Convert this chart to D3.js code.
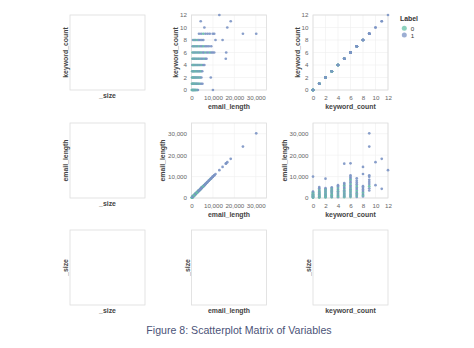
<!DOCTYPE html>
<html><head><meta charset="utf-8">
<script src="https://cdn.jsdelivr.net/npm/d3@7"></script>
<style>body{margin:0;background:#fff}svg{display:block}</style>
</head><body>
<svg id="chart" width="474" height="348"></svg>
<script>
// ---- data ----
const rowVars = ["keyword_count", "email_length", "_size"];
const colVars = ["_size", "email_length", "keyword_count"];
const labelValues = ["0", "1"];
const kwTicks = [0, 2, 4, 6, 8, 10, 12];
const lenTicks = [0, 10000, 20000, 30000];

const keyword_count = [
 0,0,0,0,0,0,0,0,0,0,0,0,0,0,0,0,
 1,1,1,1,1,1,1,1,1,1,1,1,1,1,1,
 2,2,2,2,2,2,2,2,2,2,2,2,2,2,
 3,3,3,3,3,3,3,3,3,3,3,3,3,
 4,4,4,4,4,4,4,4,4,4,4,4,4,
 5,5,5,5,5,5,5,5,5,5,5,5,5,5,5,
 6,6,6,6,6,6,6,6,6,6,6,6,6,6,6,6,6,6,6,
 7,7,7,7,7,7,7,7,7,7,7,7,7,
 8,8,8,8,8,8,8,8,8,8,
 9,9,9,9,9,9,9,9,9,9,
 10,10,
 11,11,
 12
];
const email_length = [
 120,300,450,600,800,950,1100,1300,1500,1700,1900,2100,2400,2700,3000,10000,
 200,400,650,900,1150,1400,1700,2000,2300,2600,3000,3400,3900,4500,5100,
 250,500,800,1100,1400,1750,2100,2500,2900,3300,3700,4100,4600,9000,
 300,600,900,1250,1600,2000,2400,2800,3200,3600,4000,4500,5000,
 350,700,1050,1450,1850,2300,2750,3200,3700,4200,4800,5400,6000,
 400,800,1200,1650,2100,2600,3100,3600,4150,4700,5300,5900,6500,7000,16000,
 450,900,1400,1900,2450,3000,3550,4100,4700,5300,5900,6600,7300,8000,8700,9300,9900,10600,16200,
 500,1000,1600,2200,2800,3500,4200,4900,5600,6400,7200,8100,9200,
 700,1300,1900,2600,3300,4000,4800,5500,11200,14500,
 3500,4500,5500,6500,7500,8500,9900,10600,24000,30200,
 6000,16700,
 4300,18300,
 13000
];
const label = [
 0,1,0,0,1,0,1,0,0,1,0,1,0,0,1,1,
 0,0,1,0,1,0,0,1,0,1,0,1,0,1,1,
 0,1,0,0,1,0,1,0,1,0,1,0,1,1,
 0,1,0,1,0,0,1,0,1,0,1,0,1,
 1,0,0,1,0,1,0,1,0,1,0,1,1,
 0,1,0,1,0,1,0,1,0,1,1,0,1,1,1,
 0,1,0,1,0,1,0,1,0,1,1,0,1,1,0,1,1,1,1,
 1,0,1,0,1,0,1,1,0,1,1,1,1,
 1,0,1,0,1,1,1,1,1,1,
 1,1,0,1,1,1,1,1,1,1,
 1,1,
 1,1,
 1
];
const records = keyword_count.map((k, i) => ({
  keyword_count: k, email_length: email_length[i], _size: null, Label: String(label[i])
}));

// ---- layout ----
const svg = d3.select("#chart");
const colX = [70, 191.5, 313], rowY = [15, 123, 230], S = 75;
const color = d3.scaleOrdinal().domain(labelValues).range(["#66c2a5", "#7b93c4"]);
const domains = { keyword_count: [0, 12], email_length: [0, 35000] };
const ticksFor = { keyword_count: kwTicks, email_length: lenTicks };
const fmt = d3.format(",");
const tickFont = "6.2px", titleFont = "6.9px";
const FONT = "'Liberation Sans', Arial, Helvetica, sans-serif";

rowVars.forEach((yv, r) => {
  colVars.forEach((xv, c) => {
    const g = svg.append("g").attr("transform", `translate(${colX[c]},${rowY[r]})`);
    const hasX = xv !== "_size", hasY = yv !== "_size";
    const active = hasX && hasY;
    let xs = null, ys = null;
    if (active) {
      xs = d3.scaleLinear().domain(domains[xv]).range([0, S]);
      ys = d3.scaleLinear().domain(domains[yv]).range([S, 0]);
      g.append("g").attr("class", "grid").selectAll("line.gx").data(ticksFor[xv]).join("line")
        .attr("x1", d => xs(d)).attr("x2", d => xs(d)).attr("y1", 0).attr("y2", S)
        .attr("stroke", "#eeeeee").attr("stroke-width", 0.6);
      g.append("g").attr("class", "grid").selectAll("line.gy").data(ticksFor[yv]).join("line")
        .attr("y1", d => ys(d)).attr("y2", d => ys(d)).attr("x1", 0).attr("x2", S)
        .attr("stroke", "#eeeeee").attr("stroke-width", 0.6);
    }
    g.append("rect").attr("x", 0).attr("y", 0).attr("width", S).attr("height", S)
      .attr("fill", "none").attr("stroke", "#dddddd").attr("stroke-width", 0.8);

    if (active) {
      const xAxis = d3.axisBottom(xs).tickValues(ticksFor[xv]).tickSize(0).tickPadding(5.5)
        .tickFormat(xv === "email_length" ? fmt : d3.format("d"));
      const ax = g.append("g").attr("transform", `translate(0,${S})`).call(xAxis);
      ax.select(".domain").remove();
      ax.selectAll("text").attr("font-size", tickFont).attr("font-family", FONT).attr("fill", "#666");
      const yAxis = d3.axisLeft(ys).tickValues(ticksFor[yv]).tickSize(0).tickPadding(4.5)
        .tickFormat(yv === "email_length" ? fmt : d3.format("d"));
      const ay = g.append("g").call(yAxis);
      ay.select(".domain").remove();
      ay.selectAll("text").attr("font-size", tickFont).attr("font-family", FONT).attr("fill", "#666");

      g.append("g").selectAll("circle").data(records).join("circle")
        .attr("cx", d => xs(d[xv])).attr("cy", d => ys(d[yv]))
        .attr("r", 1.35).attr("fill", d => color(d.Label)).attr("fill-opacity", 0.9);
    }
    const xTitleY = active ? S + 19.3 : S + 8.4;
    g.append("text").attr("x", S / 2).attr("y", xTitleY).attr("text-anchor", "middle")
      .attr("font-size", titleFont).attr("font-weight", "bold").attr("font-family", FONT)
      .attr("fill", "#444").text(xv);
    let yTitleX;
    if (!active) yTitleX = -4.3;
    else yTitleX = yv === "email_length" ? -29 : -16;
    g.append("text").attr("transform", `translate(${yTitleX},${S / 2}) rotate(-90)`)
      .attr("text-anchor", "middle").attr("dominant-baseline", "central")
      .attr("font-size", titleFont).attr("font-weight", "bold").attr("font-family", FONT)
      .attr("fill", "#444").text(yv);
  });
});

// legend
const lg = svg.append("g").attr("transform", "translate(400,15)");
lg.append("text").attr("x", 0).attr("y", 6).attr("font-size", "6.9px").attr("font-weight", "bold")
  .attr("font-family", FONT).attr("fill", "#333").text("Label");
lg.selectAll("g.item").data(labelValues).join("g").attr("class", "item")
  .attr("transform", (d, i) => `translate(4.3,${13.3 + i * 6.8})`)
  .each(function (d) {
    const it = d3.select(this);
    it.append("circle").attr("r", 2.5).attr("fill", color(d)).attr("fill-opacity", 0.75);
    it.append("text").attr("x", 6.5).attr("dominant-baseline", "central").attr("font-size", "6.2px")
      .attr("font-family", FONT).attr("fill", "#333").text(d);
  });

// caption
svg.append("text").attr("x", 239).attr("y", 334).attr("text-anchor", "middle")
  .attr("font-size", "10.6px").attr("font-family", FONT).attr("fill", "#4b5378")
  .text("Figure 8: Scatterplot Matrix of Variables");
</script>
</body></html>
